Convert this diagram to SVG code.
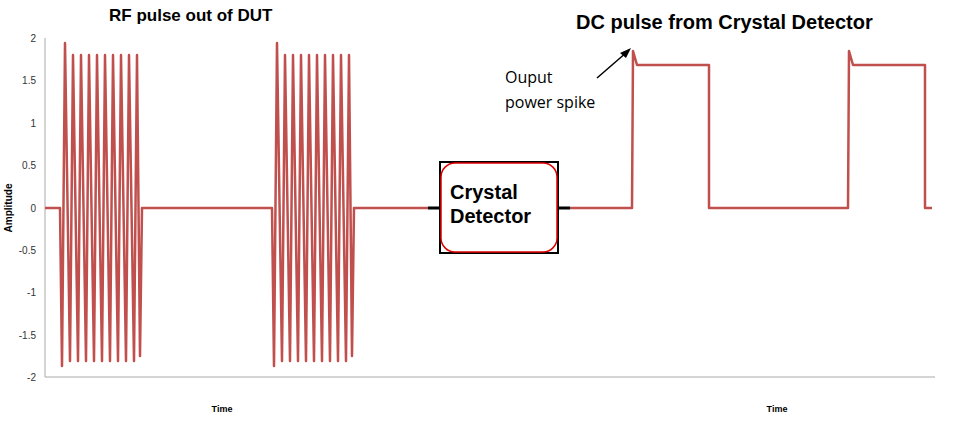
<svg xmlns="http://www.w3.org/2000/svg" width="954" height="422" viewBox="0 0 954 422">
<style>
.sig{fill:none;stroke:#c0504d;stroke-width:2.5;stroke-linejoin:round}
.tk{font-family:"Liberation Sans",Arial,sans-serif;font-size:10px;fill:#333;text-anchor:end}
.ax{stroke:#aaa;stroke-width:1;fill:none}
.b{font-family:"Liberation Sans",Arial,sans-serif;font-weight:bold;fill:#000}
</style>
<rect width="954" height="422" fill="#fff"/>
<g id="axes">
<path class="ax" d="M45,38 V377 H935"/>
<text class="tk" x="36" y="42">2</text>
<text class="tk" x="36" y="84">1.5</text>
<text class="tk" x="36" y="127">1</text>
<text class="tk" x="36" y="169">0.5</text>
<text class="tk" x="36" y="212">0</text>
<text class="tk" x="36" y="254">-0.5</text>
<text class="tk" x="36" y="296">-1</text>
<text class="tk" x="36" y="339">-1.5</text>
<text class="tk" x="36" y="381">-2</text>
<text class="b" font-size="10" transform="translate(12,208) rotate(-90)" text-anchor="middle">Amplitude</text>
<text class="b" font-size="9" x="222" y="412" text-anchor="middle">Time</text>
<text class="b" font-size="9" x="777" y="412" text-anchor="middle">Time</text>
</g>
<g id="titles">
<text class="b" font-size="17" x="109" y="21">RF pulse out of DUT</text>
<text class="b" font-size="20" x="576" y="29">DC pulse from Crystal Detector</text>
</g>
<g id="rf-signal">
<path class="sig" d="M45,208 L60,208 L62,366 L65,43 L70,361 L73,55 L78,361 L81,55 L86,361 L89,55 L94,361 L97,55 L102,361 L105,55 L110,361 L113,55 L118,361 L121,55 L126,361 L129,55 L134,361 L137,55 L140,356 L142,208 L272,208 L274,366 L277,43 L282,361 L285,55 L290,361 L293,55 L298,361 L301,55 L306,361 L309,55 L314,361 L317,55 L322,361 L325,55 L330,361 L333,55 L338,361 L341,55 L346,361 L349,55 L352,356 L354,208 L428,208"/>
</g>
<g id="connectors">
<path d="M428,208 H440 M558,208 H570" stroke="#000" stroke-width="3"/>
</g>
<g id="crystal-detector">
<rect x="440" y="162" width="118" height="91" fill="#fff" stroke="#000" stroke-width="2"/>
<rect x="441" y="163" width="116" height="89" rx="14" fill="#fff" stroke="#d00" stroke-width="1.5"/>
<text class="b" font-size="20" x="450" y="199">Crystal</text>
<text class="b" font-size="20" x="450" y="223">Detector</text>
</g>
<g id="dc-signal">
<path class="sig" d="M570,208 L632,208 L633,51 L637,65 L709,65 L709,208 L848,208 L849,51 L853,65 L925,65 L925,208 L932,208"/>
</g>
<g id="annotation">
<text font-family="'Open Sans','Liberation Sans',sans-serif" font-size="16" fill="#000" x="505" y="83">Ouput</text>
<text font-family="'Open Sans','Liberation Sans',sans-serif" font-size="16" fill="#000" x="505" y="108">power spike</text>
<path d="M597,78 L627,52" stroke="#000" stroke-width="1.5"/>
<path d="M631,48 L620,53 L626,58 Z" fill="#000"/>
</g>
</svg>
